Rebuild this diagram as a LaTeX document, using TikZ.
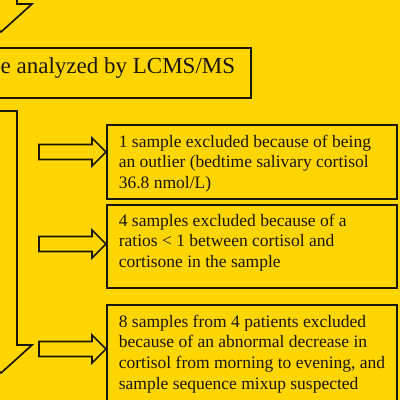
\documentclass[tikz,border=0pt]{standalone}
\usepackage{fontspec}
\setmainfont{Liberation Serif}
\usepackage{tikz}
\usetikzlibrary{%
  calc,
  positioning
}
\definecolor{gold}{RGB}{255,214,0}
\definecolor{ink}{RGB}{26,22,10}

\begin{document}
\begin{tikzpicture}[x=1pt, y=-1pt, line width=1.7pt, draw=ink,
    exbox/.style  = {draw=ink, rectangle, anchor=north west, minimum width=290, inner sep=0},
    extext/.style = {anchor=north west, inner sep=0, align=left, text=ink,
                     font=\fontsize{17.5}{20.7}\selectfont},
    blk/.style    = {draw=ink, line join=miter}]
    \useasboundingbox (0,0) rectangle (400,400);
    \clip (0,0) rectangle (400,400);
    \fill [gold] (0,0) rectangle (400,400);

    % arrows coming from the part above and leaving at the left
    \draw [blk] (-14,-20) -- (-14,4) -- (-30,4) -- (1,32) -- (32,4) -- (17,4) -- (17,-20);
    \draw [blk] (-60,111) -- (17,111) -- (17,345) -- (32,345) -- (1,373)
                -- (-30,345) -- (-14,345) -- (-14,141) -- (-60,141);

    \node [draw=ink, rectangle, anchor=north east, minimum width=320, minimum height=50, inner sep=0]
          (lcms) at (252,47) {};
    \node [anchor=base east, inner sep=0, text=ink, font=\fontsize{23}{27}\selectfont]
          (lcmstext) at (236,73) {e analyzed by LCMS/MS};

    \node [exbox, minimum height=74] (ex1) at (106,124) {};
    \node [exbox, minimum height=83] (ex2) at (106,204) {};
    \node [exbox, minimum height=120] (ex3) at (106,304) {};

    \node [extext] (ex1text) at ($(ex1.north west)+(12,10)$)
          {1 sample excluded because of being\\
           an outlier (bedtime salivary cortisol\\
           36.8 nmol/L)};
    \node [extext] (ex2text) at ($(ex2.north west)+(12,9)$)
          {4 samples excluded because of a\\
           ratios < 1 between cortisol and\\
           cortisone in the sample};
    \node [extext] (ex3text) at ($(ex3.north west)+(12,10)$)
          {8 samples from 4 patients excluded\\
           because of an abnormal decrease in\\
           cortisol from morning to evening, and\\
           sample sequence mixup suspected};

    \foreach \b/\y in {ex1/28, ex2/40, ex3/45}
      \draw [blk] (\b.north west) ++(0,\y) -- ++(-14,-14) -- ++(0,6.5) -- ++(-53,0)
                  -- ++(0,15) -- ++(53,0) -- ++(0,6.5) -- cycle;
\end{tikzpicture}
\end{document}
